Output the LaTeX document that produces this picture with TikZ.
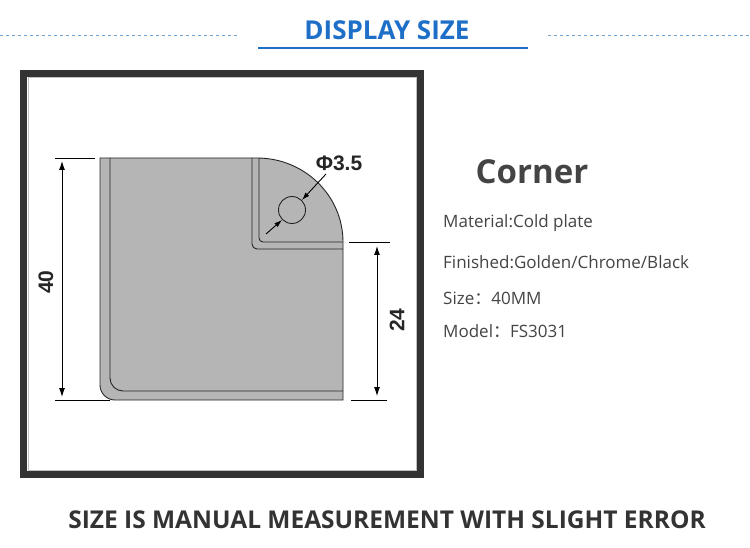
\documentclass[tikz,border=0pt]{standalone}
\usepackage{fontspec}
\usetikzlibrary{arrows.meta}
\setmainfont{Open Sans}
\newfontfamily\cjk{Noto Sans CJK SC}
\newfontfamily\arl{Liberation Sans}
\definecolor{hblue}{HTML}{1E6FC8}
\definecolor{dblue}{HTML}{6FA3D8}
\definecolor{plate}{HTML}{B5B5B5}
\definecolor{txt}{HTML}{444444}
\begin{document}
\begin{tikzpicture}[x=1pt,y=-1pt,
  dim/.style={line width=0.9pt,arrows={Latex[length=9pt,width=6pt]-Latex[length=9pt,width=6pt]}},
  lead/.style={line width=0.9pt,-{Latex[length=8pt,width=5pt]}},
  info/.style={anchor=west,font=\fontsize{17}{18}\selectfont,text=txt,inner sep=0pt}]
\useasboundingbox (0,0) rectangle (750,548);
\fill[white] (0,0) rectangle (750,548);
% header
\draw[dblue,dashed,line width=0.6pt] (0,35) -- (240,35);
\draw[dblue,dashed,line width=0.6pt] (548,35) -- (750,35);
\draw[hblue,line width=1.2pt] (258,48) -- (528,48);
\node[font=\bfseries\fontsize{26}{28}\selectfont,text=hblue] (title) at (387,30) {DISPLAY SIZE};
% frame
\draw[black!80,line width=7pt] (23.5,73.5) rectangle (420.5,474.5);
\draw[black!25,line width=1pt] (28,78) rectangle (416,470);
% plate
\fill[plate]
  (100,158) -- (257,158) arc[start angle=-90,end angle=0,x radius=86,y radius=84]
  -- (343,400) -- (115,400) arc[start angle=90,end angle=180,radius=15] -- cycle;
\draw[black!85,line width=0.9pt]
  (100,158) -- (257,158) arc[start angle=-90,end angle=0,x radius=86,y radius=84]
  -- (343,400) -- (115,400) arc[start angle=90,end angle=180,radius=15] -- cycle;
\draw[black!85,line width=0.9pt] (110,158) -- (110,378) arc[start angle=180,end angle=90,radius=13] -- (343,391);
\draw[black!85,line width=0.9pt] (252,158) -- (252,244) arc[start angle=180,end angle=90,radius=5] -- (343,249);
\draw[black!85,line width=0.9pt] (259,158) -- (259,238) arc[start angle=180,end angle=90,radius=4] -- (343,242);
\node[circle,draw=black!85,fill=plate,line width=0.9pt,minimum size=27pt,inner sep=0pt] (hole) at (292,210) {};
% diameter
\node[font=\arl\bfseries\fontsize{21}{22}\selectfont,text=black!85,inner sep=0pt] (phi) at (339,163) {Φ3.5};
\coordinate (l1) at (326,174);
\draw[lead] (l1) -- (hole.45);
\coordinate (l2) at (266,234);
\draw[lead] (l2) -- (hole.225);
% dimension 40
\coordinate (e1a) at (55,158); \coordinate (e1b) at (95,158);
\coordinate (e2a) at (55,400); \coordinate (e2b) at (110,400);
\draw[line width=0.7pt] (e1a) -- (e1b); \draw[line width=0.7pt] (e2a) -- (e2b);
\coordinate (d1t) at (62,161); \coordinate (d1b) at (62,397);
\draw[dim] (d1t) -- (d1b);
\node[font=\arl\bfseries\fontsize{21}{22}\selectfont,rotate=90,text=black!85] (n40) at (46,282) {40};
% dimension 24
\coordinate (e3a) at (349,242); \coordinate (e3b) at (390,242);
\coordinate (e4a) at (351,400); \coordinate (e4b) at (387,400);
\draw[line width=0.7pt] (e3a) -- (e3b); \draw[line width=0.7pt] (e4a) -- (e4b);
\coordinate (d2t) at (377,246); \coordinate (d2b) at (377,396);
\draw[dim] (d2t) -- (d2b);
\node[font=\arl\bfseries\fontsize{21}{22}\selectfont,rotate=90,text=black!85] (n24) at (397,320) {24};
% right text
\node[font=\bfseries\fontsize{33}{36}\selectfont,text=txt] (corner) at (532,172) {Corner};
\node[info] (m1) at (443,223) {Material:Cold plate};
\node[info] (m2) at (443,262) {Finished:Golden/Chrome/Black};
\node[info] (m3) at (443,298) {Size{\cjk ：}40MM};
\node[info] (m4) at (443,331) {Model{\cjk ：}FS3031};
% bottom
\node[font=\bfseries\fontsize{24.5}{28}\selectfont,text=black!80] (foot) at (387,520) {SIZE IS MANUAL MEASUREMENT WITH SLIGHT ERROR};
\end{tikzpicture}
\end{document}
